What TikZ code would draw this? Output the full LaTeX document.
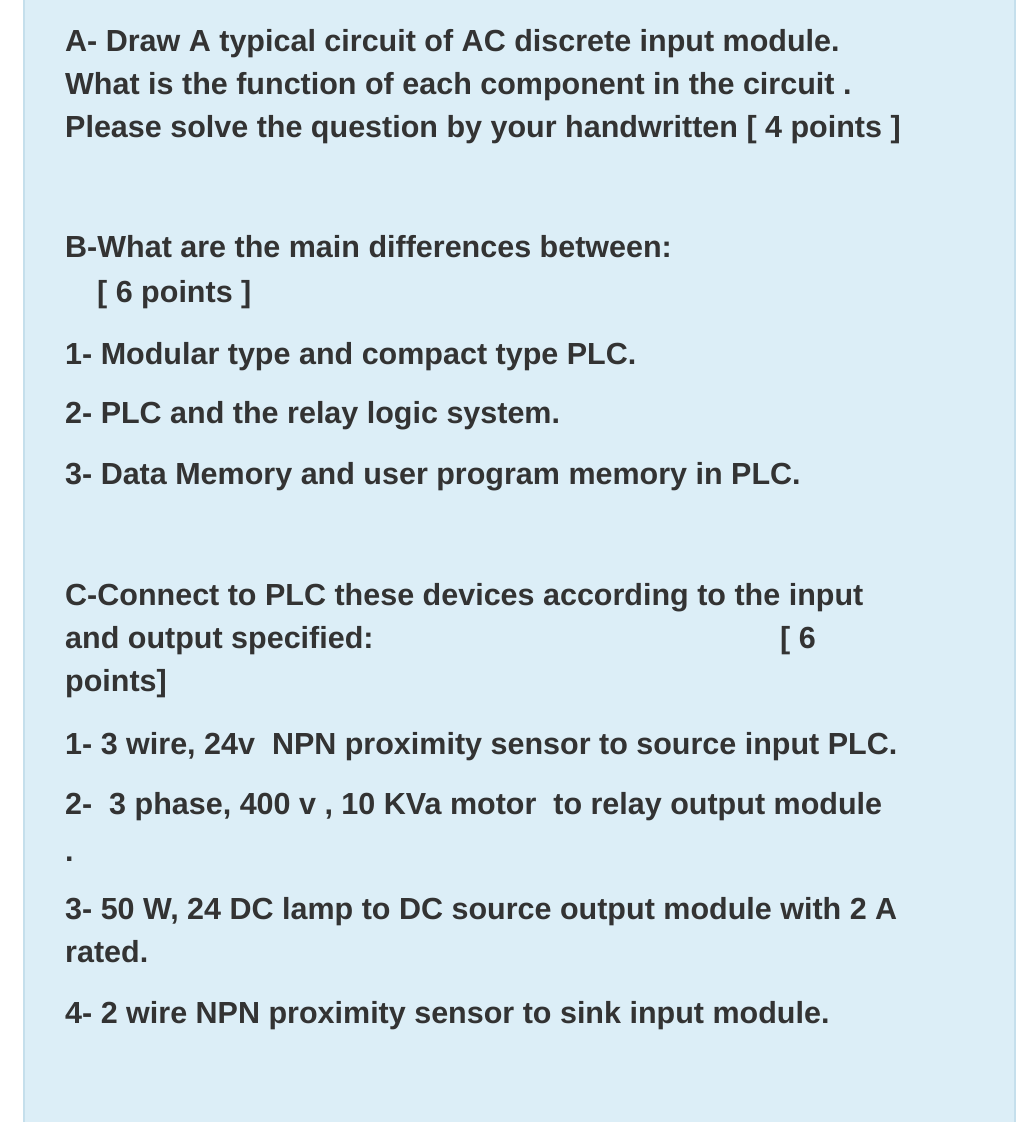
\documentclass[tikz,border=0pt]{standalone}
\usepackage{fontspec}
\setmainfont{Liberation Sans}
\definecolor{bg}{HTML}{DCEEF7}
\definecolor{bd}{HTML}{C5DFEC}
\definecolor{tx}{HTML}{333333}
\begin{document}
\begin{tikzpicture}[x=1pt,y=1pt,txt/.style={anchor=base west,inner sep=0pt,font=\fontsize{30.5}{34}\selectfont\bfseries,text=tx}]
\useasboundingbox (0,0) rectangle (1018,1122);
\fill[white] (0,0) rectangle (1018,1122);
\draw[bd,fill=bg,line width=1.5] (24,-2) rectangle (1015,1124);
\node[txt] (a1) at (65,1122-52) {A- Draw A typical circuit of AC discrete input module.};
\node[txt] (a2) at (65,1122-95) {What is the function of each component in the circuit .};
\node[txt] (a3) at (65,1122-138) {Please solve the question by your handwritten [ 4 points ]};
\node[txt] (b1) at (65,1122-258) {B-What are the main differences between:};
\node[txt] (b2) at (97,1122-303) {[ 6 points ]};
\node[txt] (b3) at (65,1122-365) {1- Modular type and compact type PLC.};
\node[txt] (b4) at (65,1122-424) {2- PLC and the relay logic system.};
\node[txt] (b5) at (65,1122-485) {3- Data Memory and user program memory in PLC.};
\node[txt] (c1) at (65,1122-606) {C-Connect to PLC these devices according to the input};
\node[txt] (c2) at (65,1122-649) {and output specified:};
\node[txt] (c2b) at (780,1122-649) {[ 6};
\node[txt] (c3) at (65,1122-692) {points]};
\node[txt] (c4) at (65,1122-755) {1- 3 wire, 24v\ \ NPN proximity sensor to source input PLC.};
\node[txt] (c5) at (65,1122-815) {2-\ \ 3 phase, 400 v , 10 KVa motor\ \ to relay output module};
\node[txt] (c6) at (65,1122-862) {.};
\node[txt] (c7) at (65,1122-920) {3- 50 W, 24 DC lamp to DC source output module with 2 A};
\node[txt] (c8) at (65,1122-963) {rated.};
\node[txt] (c9) at (65,1122-1024) {4- 2 wire NPN proximity sensor to sink input module.};
\end{tikzpicture}
\end{document}
